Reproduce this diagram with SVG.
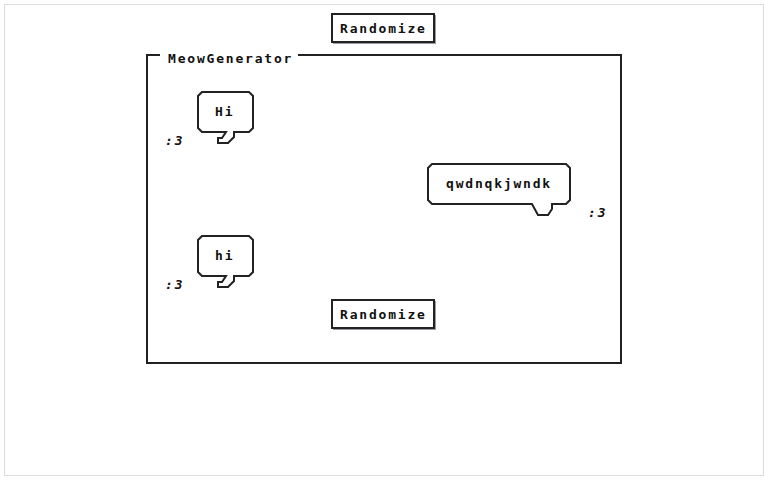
<svg xmlns="http://www.w3.org/2000/svg" width="768" height="480" viewBox="0 0 768 480">
<style>
text{font-family:"DejaVu Sans Mono","Liberation Mono",monospace;font-size:13px;letter-spacing:1.8px;fill:#111;font-weight:bold}
.b{fill:#fff;stroke:#222;stroke-width:2}
.cat{font-style:italic}
</style>
<rect x="0" y="0" width="768" height="480" fill="#fff"/>
<rect x="4.5" y="4.5" width="759" height="471" fill="#fff" stroke="#ddd"/>
<g id="btnTop">
<rect x="333" y="15" width="103" height="29" fill="#9a9aa6"/>
<rect x="332" y="14" width="102" height="28" class="b"/>
<text x="340" y="33">Randomize</text>
</g>
<g id="frame">
<path d="M160 55 H147 V363 H621 V55 H298" fill="none" stroke="#222" stroke-width="2"/>
<text x="168" y="63">MeowGenerator</text>
</g>
<g id="bubble1">
<path d="M202 92 H249 L253 96 V128 L249 132 H234 V137 L228 143 H218 V138 H222 L226 132 H202 L198 128 V96 Z" class="b"/>
<text x="215" y="116">Hi</text>
<text x="165" y="145" class="cat">:3</text>
</g>
<g id="bubble2">
<path d="M432 164 H566 L570 168 V200 L566 204 H552 V209 L548 215 H538 L532 204 H432 L428 200 V168 Z" class="b"/>
<text x="446" y="188">qwdnqkjwndk</text>
<text x="588" y="217" class="cat">:3</text>
</g>
<g id="bubble3">
<path d="M202 236 H249 L253 240 V272 L249 276 H234 V281 L228 287 H218 V282 H222 L226 276 H202 L198 272 V240 Z" class="b"/>
<text x="215" y="260">hi</text>
<text x="165" y="289" class="cat">:3</text>
</g>
<g id="btnBottom">
<rect x="333" y="301" width="103" height="29" fill="#9a9aa6"/>
<rect x="332" y="300" width="102" height="28" class="b"/>
<text x="340" y="319">Randomize</text>
</g>
<g id="connectors"/>
</svg>
